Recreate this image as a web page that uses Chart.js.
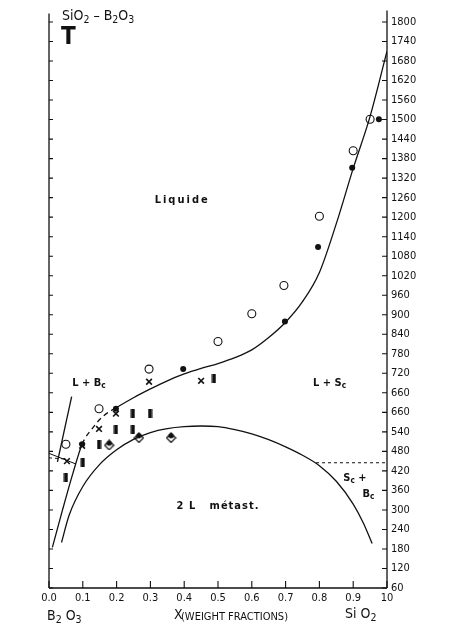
<!DOCTYPE html>
<html>
<head>
<meta charset="utf-8">
<script src="https://cdn.jsdelivr.net/npm/chart.js@4"></script>
<style>
  html, body { margin: 0; padding: 0; background: #fff; }
</style>
</head>
<body>
<canvas id="myChart" width="474" height="626"></canvas>
<script>
// axis ticks
const xTickValues = [0, 0.1, 0.2, 0.3, 0.4, 0.5, 0.6, 0.7, 0.8, 0.9, 1.0];
const xTickLabels = ['0.0', '0.1', '0.2', '0.3', '0.4', '0.5', '0.6', '0.7', '0.8', '0.9', '10'];
const yTickValues = [60, 120, 180, 240, 300, 360, 420, 480, 540, 600, 660, 720, 780, 840, 900, 960,
  1020, 1080, 1140, 1200, 1260, 1320, 1380, 1440, 1500, 1560, 1620, 1680, 1740, 1800];
const yTickLabels = ['60', '120', '180', '240', '300', '360', '420', '480', '540', '660', '660', '720', '780', '840', '900', '960',
  '1020', '1080', '1140', '1200', '1260', '1320', '1380', '1440', '1500', '1560', '1620', '1680', '1740', '1800'];

// curves (x = weight fraction SiO2, T)
const liquidus = [[0.01, 185], [0.04, 300], [0.07, 410], [0.098, 502], [0.13, 553], [0.16, 588], [0.2, 615],
  [0.25, 645], [0.3, 672], [0.35, 697], [0.4, 718], [0.45, 735], [0.5, 750], [0.55, 768], [0.6, 792],
  [0.65, 830], [0.7, 877], [0.75, 940], [0.8, 1030], [0.85, 1180], [0.9, 1350], [0.95, 1510], [1.0, 1710]];
const dome = [[0.037, 200], [0.06, 285], [0.1, 372], [0.15, 440], [0.2, 485], [0.25, 517], [0.3, 538],
  [0.35, 550], [0.4, 556], [0.45, 558], [0.5, 556], [0.55, 547], [0.6, 534], [0.65, 516], [0.7, 494],
  [0.75, 468], [0.8, 436], [0.85, 388], [0.9, 318], [0.93, 260], [0.956, 197]];
const bcBoundary = [[0.025, 448], [0.067, 648]];
const eutectic = [[0.0, 474], [0.08, 441]];
const eutecticDash = [[0.0, 460], [0.045, 457]];
const scBcLine = [[0.79, 445], [1.0, 445]];

// measured points
const openCircles = [[0.05, 502], [0.148, 611], [0.296, 733], [0.5, 818], [0.6, 903], [0.695, 990],
  [0.8, 1203], [0.9, 1404], [0.95, 1501]];
const filledCircles = [[0.098, 502], [0.198, 611], [0.397, 733], [0.698, 879], [0.796, 1108],
  [0.897, 1352], [0.976, 1501]];
const crosses = [[0.053, 450], [0.098, 497], [0.148, 549], [0.198, 596], [0.296, 694], [0.45, 697]];
const bars = [[0.05, 401], [0.1, 447], [0.148, 502], [0.198, 547], [0.248, 547], [0.248, 596],
  [0.299, 596], [0.488, 703]];
const diamonds = [[0.178, 500], [0.266, 523], [0.361, 523]];

const toXY = arr => arr.map(p => ({ x: p[0], y: p[1] }));

// marker images
const barImg = document.createElement('canvas');
barImg.width = 5; barImg.height = 9;
let g = barImg.getContext('2d');
g.fillStyle = '#111';
g.fillRect(0.5, 0, 4, 9);

const diaImg = document.createElement('canvas');
diaImg.width = 11; diaImg.height = 11;
g = diaImg.getContext('2d');
g.strokeStyle = '#111'; g.lineWidth = 1.2; g.fillStyle = '#fff';
g.beginPath(); g.moveTo(5.5, 1); g.lineTo(10, 6); g.lineTo(5.5, 10.5); g.lineTo(1, 6); g.closePath();
g.fill(); g.stroke();
g.fillStyle = '#111';
g.beginPath(); g.arc(5.5, 3.8, 2.6, 0, Math.PI * 2); g.fill();

const FONT = "'Liberation Sans Narrow', 'DejaVu Sans Condensed', sans-serif";

function drawRich(ctx, parts, x, y, size, align, weight) {
  ctx.font = (weight || 'normal') + ' ' + size + 'px ' + FONT;
  let w = 0;
  parts.forEach(p => {
    ctx.font = (weight || 'normal') + ' ' + (p[1] ? size * 0.75 : size) + 'px ' + FONT;
    w += ctx.measureText(p[0]).width;
  });
  let cx = align === 'center' ? x - w / 2 : x;
  ctx.textAlign = 'left';
  ctx.textBaseline = 'middle';
  parts.forEach(p => {
    ctx.font = (weight || 'normal') + ' ' + (p[1] ? size * 0.75 : size) + 'px ' + FONT;
    ctx.fillText(p[0], cx, p[1] ? y + size * 0.3 : y);
    cx += ctx.measureText(p[0]).width;
  });
}

const regionLabels = [
  { parts: [['Liquide', 0]], x: 0.394, y: 1251, spacing: '2px' },
  { parts: [['L + B', 0], ['c', 1]], x: 0.118, y: 691 },
  { parts: [['L + S', 0], ['c', 1]], x: 0.83, y: 691 },
  { parts: [['2 L   métast.', 0]], x: 0.5, y: 313, spacing: '1px' },
  { parts: [['S', 0], ['c', 1], [' +', 0]], x: 0.905, y: 398 },
  { parts: [['B', 0], ['c', 1]], x: 0.945, y: 350 }
];

const overlay = {
  id: 'overlay',
  afterDraw(chart) {
    const { ctx, chartArea: a, scales: { x, y } } = chart;
    ctx.save();
    ctx.strokeStyle = '#111';
    ctx.lineWidth = 1.3;
    ctx.beginPath();
    ctx.moveTo(a.left, a.top + 3); ctx.lineTo(a.left, a.bottom);
    ctx.moveTo(a.right, a.top); ctx.lineTo(a.right, a.bottom);
    ctx.moveTo(a.left, a.bottom); ctx.lineTo(a.right, a.bottom);
    ctx.stroke();
    ctx.lineWidth = 1.1;
    ctx.beginPath();
    yTickValues.forEach(v => {
      const py = y.getPixelForValue(v);
      ctx.moveTo(a.left, py); ctx.lineTo(a.left + 4, py);
      ctx.moveTo(a.right - 5, py); ctx.lineTo(a.right, py);
    });
    xTickValues.forEach(v => {
      const px = x.getPixelForValue(v);
      ctx.moveTo(px, a.bottom); ctx.lineTo(px, a.bottom - 7);
    });
    ctx.stroke();

    ctx.fillStyle = '#111';
    regionLabels.forEach(l => {
      ctx.letterSpacing = l.spacing || '0px';
      drawRich(ctx, l.parts, x.getPixelForValue(l.x), y.getPixelForValue(l.y), 11, 'center', 'bold');
    });
    ctx.letterSpacing = '0px';

    // title
    drawRich(ctx, [['SiO', 0], ['2', 1], [' – B', 0], ['2', 1], ['O', 0], ['3', 1]], a.left + 13, 16, 14, 'left');
    ctx.font = 'bold 24px ' + FONT;
    ctx.textBaseline = 'middle';
    ctx.fillText('T', a.left + 12, 38);

    // bottom captions
    drawRich(ctx, [['B', 0], ['2', 1], [' O', 0], ['3', 1]], a.left - 2, 616, 14, 'left');
    drawRich(ctx, [['X', 0]], 174, 615, 14, 'left');
    ctx.font = '11px ' + FONT;
    ctx.fillText('(WEIGHT FRACTIONS)', 181, 617);
    drawRich(ctx, [['Si', 0], [' O', 0], ['2', 1]], 345, 614, 14, 'left');
    ctx.restore();
  }
};

const lineStyle = { showLine: true, pointRadius: 0, borderColor: '#111', borderWidth: 1.3, fill: false };

const ctx = document.getElementById('myChart').getContext('2d');
const myChart = new Chart(ctx, {
  type: 'scatter',
  data: {
    datasets: [
      {
        ...lineStyle, data: toXY(liquidus), cubicInterpolationMode: 'monotone',
        segment: {
          borderDash: c => (c.p0.parsed.x >= 0.097 && c.p1.parsed.x <= 0.201) ? [5, 4] : undefined
        }
      },
      { ...lineStyle, data: toXY(dome), cubicInterpolationMode: 'monotone' },
      { ...lineStyle, data: toXY(bcBoundary) },
      { ...lineStyle, data: toXY(eutectic), borderWidth: 1 },
      { ...lineStyle, data: toXY(eutecticDash), borderWidth: 1, borderDash: [3, 3] },
      { ...lineStyle, data: toXY(scBcLine), borderWidth: 1, borderDash: [3, 3] },
      { data: toXY(openCircles), pointStyle: 'circle', pointRadius: 4, borderColor: '#111', borderWidth: 1.1, backgroundColor: '#fff' },
      { data: toXY(filledCircles), pointStyle: 'circle', pointRadius: 3, borderColor: '#111', borderWidth: 0, backgroundColor: '#111' },
      { data: toXY(crosses), pointStyle: 'crossRot', pointRadius: 4, borderColor: '#111', borderWidth: 1.6 },
      { data: toXY(bars), pointStyle: barImg },
      { data: toXY(diamonds), pointStyle: diaImg }
    ]
  },
  options: {
    responsive: false,
    animation: false,
    layout: { padding: { left: 49, top: 5, right: 0, bottom: 0 } },
    plugins: { legend: { display: false }, tooltip: { enabled: false } },
    scales: {
      x: {
        type: 'linear', min: 0, max: 1,
        border: { display: false },
        grid: { display: false, drawTicks: false },
        afterBuildTicks: s => { s.ticks = xTickValues.map(v => ({ value: v })); },
        afterFit: s => { s.height = 38; },
        ticks: {
          padding: 4, color: '#111', maxRotation: 0, autoSkip: false,
          font: { family: FONT, size: 11 },
          callback: (v, i) => xTickLabels[i]
        }
      },
      y: {
        type: 'linear', position: 'right', min: 60, max: 1835,
        border: { display: false },
        grid: { display: false, drawTicks: false },
        afterBuildTicks: s => { s.ticks = yTickValues.map(v => ({ value: v })); },
        afterFit: s => { s.width = 87; },
        ticks: {
          padding: 4, color: '#111', autoSkip: false,
          font: { family: FONT, size: 11 },
          callback: (v, i) => yTickLabels[i]
        }
      }
    }
  },
  plugins: [overlay]
});
</script>
</body>
</html>
